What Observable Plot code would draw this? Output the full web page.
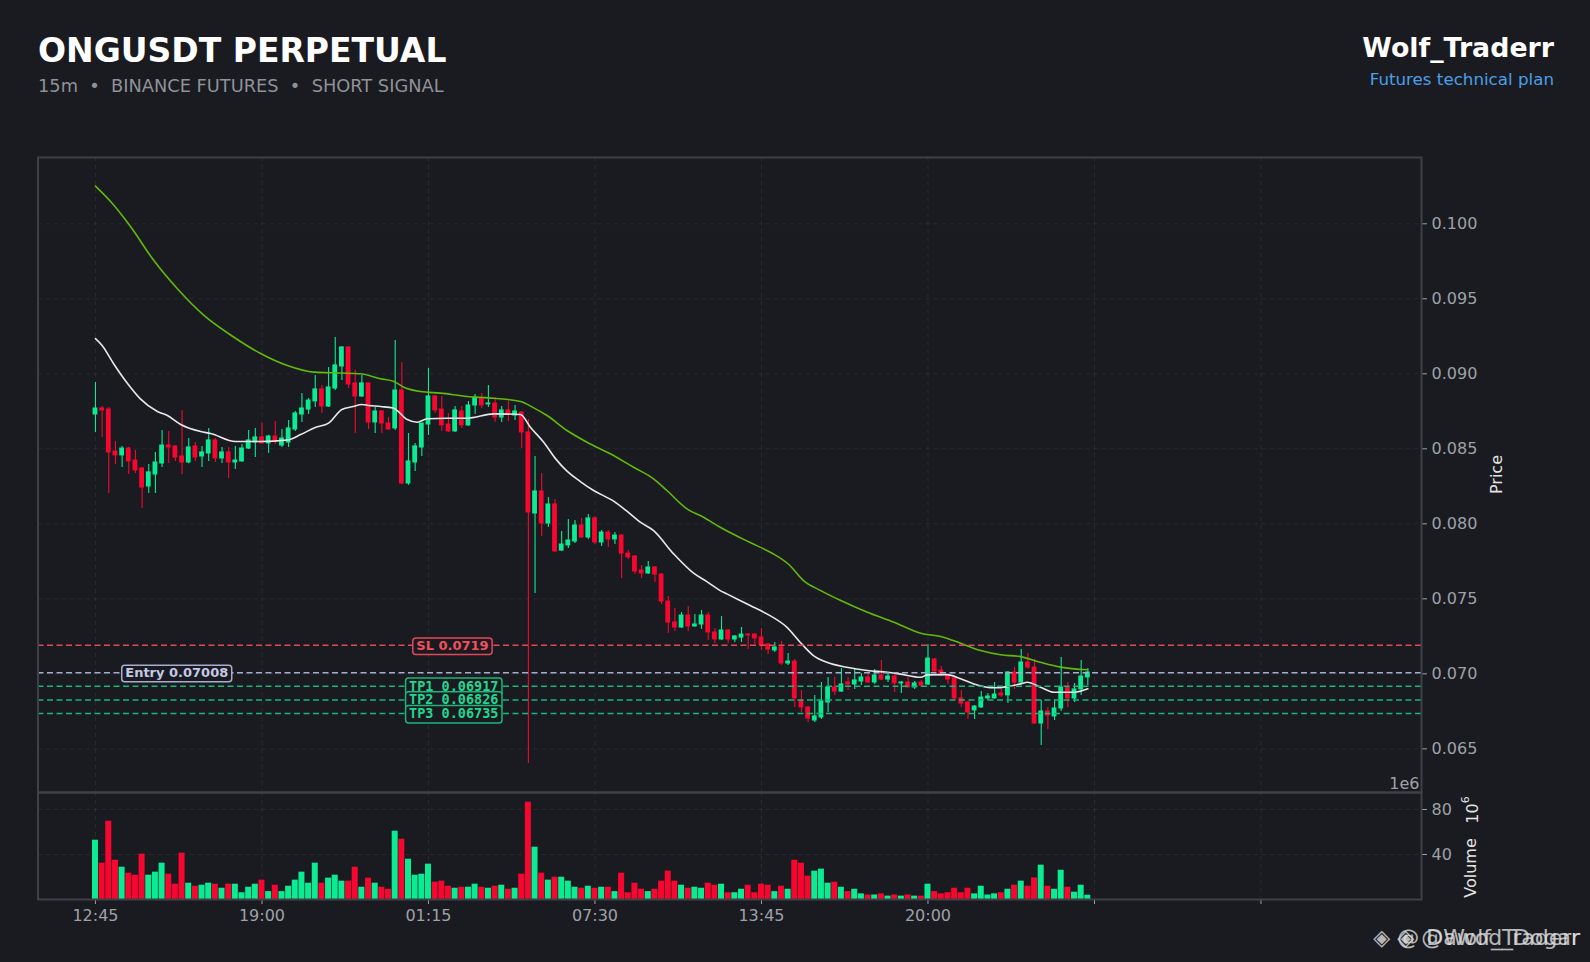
<!DOCTYPE html>
<html><head><meta charset="utf-8">
<script src="https://cdn.jsdelivr.net/npm/d3@7"></script>
<script src="https://cdn.jsdelivr.net/npm/@observablehq/plot@0.6"></script>
<style>
html,body{margin:0;padding:0;background:#1a1b20;}
#root{position:relative;width:1590px;height:962px;overflow:hidden;background:#1a1b20;font-family:"DejaVu Sans",sans-serif;}
#root > svg{position:absolute;left:0;}
</style></head><body><div id="root"></div>
<script>
// ---------- data (15m candles starting 12:45) ----------
const open = [.08729,.08769,.08762,.08482,.08456,.08502,.08422,.08369,.08249,.08329,
.08402,.08522,.08516,.08449,.08409,.08516,.08449,.08469,.08556,.08436,
.08476,.08409,.08416,.08502,.08542,.08576,.08536,.08582,.08522,.08542,
.08629,.08729,.08762,.08816,.08896,.08782,.08902,.09049,.09176,.08936,
.08849,.08936,.08676,.08749,.08669,.08636,.08889,.08269,.08409,.08509,
.08662,.08849,.08762,.08662,.08616,.08749,.08656,.08789,.08836,.08796,
.08802,.08709,.08756,.08722,.08742,.08609,.08069,.08216,.08002,.08129,
.07822,.07856,.07882,.07989,.07909,.08036,.07876,.07942,.07896,.07922,
.07802,.07782,.07689,.07669,.07709,.07662,.07482,.07342,.07309,.07389,
.07316,.07329,.07389,.07276,.07229,.07289,.07229,.07242,.07262,.07262,
.07242,.07196,.07156,.07176,.07069,.07082,.06822,.06776,.06689,.06709,
.06809,.06909,.06882,.06942,.06929,.06949,.06976,.06942,.06989,.06962,
.06982,.06936,.06942,.06909,.06942,.06929,.07096,.07022,.06989,.06969,
.06836,.06809,.06756,.06776,.06836,.06836,.06869,.06856,.07009,.06942,
.07076,.07042,.06669,.06749,.06716,.06769,.06909,.06836,.06896,.06976];
const high = [.08942,.08782,.08776,.08549,.08516,.08510,.08489,.08376,.08396,.08476,
.08622,.08616,.08520,.08756,.08569,.08542,.08516,.08636,.08569,.08509,
.08509,.08516,.08529,.08622,.08636,.08669,.08590,.08682,.08629,.08689,
.08749,.08869,.08836,.08989,.08922,.09042,.09242,.09180,.09180,.09022,
.08989,.08940,.08776,.08756,.08709,.09222,.09076,.08602,.08536,.08669,
.09036,.08856,.08849,.08736,.08782,.08782,.08816,.08862,.08869,.08922,
.08842,.08782,.08816,.08789,.08749,.08696,.08449,.08336,.08176,.08162,
.07949,.08029,.08022,.08036,.08062,.08049,.07956,.07956,.07942,.07929,
.07822,.07789,.07722,.07749,.07716,.07669,.07516,.07436,.07409,.07449,
.07396,.07422,.07409,.07302,.07382,.07296,.07255,.07309,.07269,.07269,
.07302,.07202,.07209,.07216,.07136,.07096,.06889,.06782,.06856,.06942,
.06976,.06976,.07036,.06976,.07029,.07002,.07002,.07029,.07089,.07009,
.07002,.06949,.06976,.06949,.06956,.07196,.07102,.07049,.06996,.06976,
.06889,.06816,.06789,.06882,.06869,.06942,.06902,.07015,.07042,.07162,
.07136,.07096,.06822,.06776,.06829,.07109,.06942,.06936,.07089,.07036];
const low = [.08609,.08576,.08202,.08396,.08376,.08329,.08336,.08102,.08202,.08202,
.08376,.08402,.08416,.08329,.08400,.08416,.08376,.08416,.08409,.08402,
.08302,.08362,.08410,.08496,.08442,.08530,.08469,.08529,.08509,.08509,
.08616,.08676,.08729,.08776,.08736,.08776,.08889,.08956,.08902,.08602,
.08842,.08629,.08602,.08602,.08622,.08622,.08262,.08256,.08349,.08449,
.08589,.08736,.08616,.08609,.08609,.08636,.08650,.08729,.08769,.08776,
.08676,.08676,.08682,.08689,.08502,.06402,.07536,.07916,.07976,.07810,
.07816,.07836,.07869,.07902,.07896,.07862,.07849,.07842,.07862,.07636,
.07762,.07662,.07636,.07662,.07609,.07462,.07269,.07282,.07302,.07282,
.07310,.07296,.07222,.07202,.07222,.07202,.07209,.07209,.07162,.07196,
.07156,.07129,.07142,.07056,.07056,.06776,.06742,.06676,.06676,.06696,
.06742,.06856,.06876,.06889,.06896,.06922,.06936,.06929,.06956,.06942,
.06876,.06869,.06909,.06896,.06909,.06922,.06996,.06982,.06929,.06822,
.06776,.06696,.06696,.06769,.06822,.06830,.06842,.06802,.06896,.06936,
.07029,.06662,.06522,.06629,.06689,.06749,.06776,.06809,.06856,.06922];
const close = [.08769,.08756,.08476,.08456,.08502,.08416,.08356,.08242,.08343,.08409,
.08522,.08509,.08442,.08409,.08509,.08442,.08476,.08556,.08436,.08476,
.08409,.08422,.08502,.08556,.08576,.08536,.08582,.08549,.08569,.08636,
.08736,.08769,.08822,.08896,.08782,.08909,.09056,.09176,.08929,.08849,
.08936,.08676,.08749,.08669,.08629,.08889,.08269,.08416,.08516,.08669,
.08849,.08756,.08656,.08616,.08756,.08656,.08789,.08842,.08789,.08802,
.08709,.08756,.08729,.08749,.08609,.08076,.08216,.08002,.08129,.07816,
.07862,.07889,.07989,.07909,.08036,.07876,.07942,.07896,.07922,.07802,
.07776,.07682,.07669,.07709,.07662,.07482,.07342,.07309,.07389,.07316,
.07329,.07389,.07276,.07229,.07289,.07229,.07249,.07262,.07256,.07236,
.07189,.07162,.07176,.07069,.07082,.06836,.06776,.06702,.06716,.06816,
.06909,.06882,.06929,.06929,.06956,.06976,.06942,.06989,.06962,.06982,
.06936,.06942,.06909,.06936,.06922,.07102,.07016,.06989,.06962,.06836,
.06802,.06742,.06782,.06842,.06849,.06862,.06856,.07009,.06942,.07076,
.07042,.06669,.06749,.06722,.06769,.06909,.06836,.06896,.06982,.07009];
// volume in millions
const volume = [52.7,32.3,69.6,34.9,28.7,23.4,21.6,40.3,21.6,24.3,
32.3,22.5,13.6,41.2,14.5,11.8,12.7,14.5,13.6,10.0,
13.6,13.6,6,10.9,13.6,17.2,7,12.7,7,11.8,
17.2,24.3,14.5,32.3,14.5,19.0,21.6,16.3,16.3,28.7,
10.9,19.0,14.5,10.9,9.1,60.7,53.6,35.8,21.6,22.5,
31.4,15.4,16.3,11.8,10.0,10.9,10.9,13.6,10.9,10.0,
11.8,12.7,9.1,10.0,22.5,86.5,46.5,23.4,17.2,19.8,
19.8,16.3,10.9,10.0,11.8,10.0,10.9,10.9,7,23.4,
6,14.5,9.1,7,9.1,16.3,25.2,16.3,12.7,10.0,
10.9,10.0,14.5,12.7,13.6,6,6,9.1,12.7,6,
13.6,12.7,7,11.8,9.1,34.9,32.3,20.7,25.2,27.0,
14.5,15.4,10.9,7,9.1,5,4,4,5,3,
4,3,4,3,3,13.6,7,5,6,10.0,
6,10.0,5,11.8,4,5,6,9.1,12.7,16.3,
11.8,19.2,30.5,11.8,9.1,26.0,10.9,6.5,12.7,3.8];

// moving averages (candle index, price)
const maFastIdx = [0,1,2.7,4.7,6.7,9.3,10.8,12.8,15.8,17.3,21,24.8,28.8,30.8,33,35,37,38.7,40,41,42.8,44.7,46.8,48.3,49.8,52.8,55.8,59.8,63.8,65.3,67.3,69.1,70.8,72.8,74.8,77.8,79.8,81.8,83.8,86.8,89.8,91.8,93.8,94.8,98.3,100.8,103.8,105.8,107.8,109.8,112.8,115.9,118.9,120.9,123.9,124.9,127.9,129.9,131.9,134.9,136.9,138.9,139.9,141.9,143.9,146.9,149];
const maFastVal = [.09235,.09189,.09069,.08942,.08835,.08749,.08722,.08662,.08615,.08602,.08549,.08549,.08559,.08595,.08642,.08671,.08762,.08782,.08795,.08789,.08782,.08772,.08695,.08677,.08700,.08704,.08704,.08733,.08729,.08644,.08544,.08433,.08351,.08282,.08222,.08151,.08084,.08011,.07955,.07800,.07671,.07615,.07555,.07533,.07455,.07400,.07311,.07211,.07122,.07077,.07044,.07022,.07011,.06998,.06977,.06993,.06995,.06967,.06933,.06907,.06915,.06933,.06944,.06911,.06877,.06877,.06900];
const maSlowIdx = [0,2.5,5.5,8.6,12.4,16.2,20.8,24.8,28.8,32.8,36.8,39.8,42.8,44.8,46.3,48.8,51.8,55.8,59.8,63.8,65.8,67.8,70.8,73.8,77.3,80.8,83.8,85.8,88.8,91.3,93.8,98.3,101.4,104.1,106.3,108.9,111.9,115.9,119.9,123.9,126.9,129.9,132.9,135.9,138.9,141.9,144.9,149];
const maSlowVal = [.10251,.10137,.09967,.09765,.09562,.09393,.09244,.09135,.09055,.09011,.09005,.09000,.08967,.08949,.08911,.08882,.08871,.08849,.08837,.08815,.08773,.08722,.08622,.08544,.08467,.08377,.08300,.08222,.08100,.08044,.07977,.07875,.07809,.07729,.07622,.07555,.07489,.07411,.07344,.07271,.07249,.07204,.07155,.07127,.07115,.07077,.07045,.07027];

// trade levels
const levelNames = ["SL","Entry","TP1","TP2","TP3"];
const levelValues = [0.0719, 0.07008, 0.06917, 0.06826, 0.06735];

// axis ticks
const priceTicks = [0.065,0.070,0.075,0.080,0.085,0.090,0.095,0.100];
const volumeTicks = [40, 80];
const timeTickIdx = [0,25,50,75,100,125,150,175];
const timeTickLabels = ["12:45","19:00","01:15","07:30","13:45","20:00","",""];

// ---------- styles ----------
const BG = "#1a1b20", UP = "#0beb93", DOWN = "#f7062f", AXIS = "#9fa1a8", FRAME = "#3e4148";
const levelStroke = ["#e2485a","#a6add0","#17b67a","#17b67a","#17b67a"];
const levelText = ["#f0505f","#c3c9e6","#22d690","#22d690","#22d690"];
const levelFont = ["DejaVu Sans","DejaVu Sans","DejaVu Sans Mono","DejaVu Sans Mono","DejaVu Sans Mono"];
const levelLabelX = [53.6, 12.2, 53.8, 53.8, 53.8];
const xDomain = [-8.63, 199.1];

const rows = open.map((o, i) => ({i, open: o, high: high[i], low: low[i], close: close[i], volume: volume[i], color: close[i] >= o ? UP : DOWN}));
const fast = maFastIdx.map((x, k) => ({x, y: maFastVal[k]}));
const slow = maSlowIdx.map((x, k) => ({x, y: maSlowVal[k]}));
const levels = levelNames.map((n, k) => ({name: n, value: levelValues[k], label: `${n} ${levelValues[k]}`, stroke: levelStroke[k], text: levelText[k], font: levelFont[k], lx: levelLabelX[k]}));

const gridStyle = {stroke: "#ffffff", strokeOpacity: 0.07, strokeDasharray: "4,4"};
const plotStyle = {background: "none", color: AXIS, fontFamily: "'DejaVu Sans', sans-serif", fontSize: "16px", overflow: "visible"};

const pricePlot = Plot.plot({
  width: 1590, height: 792,
  marginTop: 157, marginBottom: 0, marginLeft: 37.5, marginRight: 169,
  style: plotStyle,
  x: {domain: xDomain, axis: null},
  y: {domain: [0.06209, 0.10442]},
  color: {type: "identity"},
  marks: [
    Plot.gridY(priceTicks, gridStyle),
    Plot.gridX(timeTickIdx, gridStyle),
    Plot.axisY(priceTicks, {anchor: "right", tickSize: 5, tickPadding: 5, tickFormat: d3.format(".3f"), label: null, stroke: AXIS, fill: AXIS}),
    Plot.ruleX(rows, {x: "i", y1: "low", y2: "high", stroke: "color", strokeWidth: 1.1}),
    Plot.rect(rows, {x1: d => d.i - 0.36, x2: d => d.i + 0.36, y1: "open", y2: "close", fill: "color", insetTop: -0.5, insetBottom: -0.5}),
    Plot.line(slow, {x: "x", y: "y", stroke: "#62b90a", strokeWidth: 1.6, curve: "monotone-x"}),
    Plot.line(fast, {x: "x", y: "y", stroke: "#e8e8e8", strokeWidth: 1.6, curve: "monotone-x"}),
    Plot.ruleY(levels, {y: "value", stroke: "stroke", strokeWidth: 1.5, strokeDasharray: "6,3.5"}),
    Plot.text(levels.filter(d => d.font !== "DejaVu Sans Mono"), {x: "lx", y: "value", text: "label", fill: "text", fontWeight: "bold", fontSize: 13, fontFamily: "DejaVu Sans"}),
    Plot.text(levels.filter(d => d.font === "DejaVu Sans Mono"), {x: "lx", y: "value", text: "label", fill: "text", fontWeight: "bold", fontSize: 13.5, fontFamily: "DejaVu Sans Mono"}),
    Plot.text(["1e6"], {frameAnchor: "bottom-right", text: d => d, fill: AXIS, fontSize: 16, dx: -2, dy: -4}),
    Plot.frame({stroke: FRAME, strokeWidth: 2})
  ]
});

const volPlot = Plot.plot({
  width: 1590, height: 170,
  marginTop: 0, marginBottom: 63, marginLeft: 37.5, marginRight: 169,
  style: plotStyle,
  x: {domain: xDomain},
  y: {domain: [0, 95.1]},
  color: {type: "identity"},
  marks: [
    Plot.gridY(volumeTicks, gridStyle),
    Plot.gridX(timeTickIdx, gridStyle),
    Plot.rectY(rows, {x1: d => d.i - 0.45, x2: d => d.i + 0.45, y: "volume", fill: "color"}),
    Plot.axisY(volumeTicks, {anchor: "right", tickSize: 5, tickPadding: 5, label: null, stroke: AXIS, fill: AXIS}),
    Plot.axisX(timeTickIdx, {tickSize: 5, tickPadding: 5, tickFormat: d => timeTickLabels[timeTickIdx.indexOf(d)], label: null, stroke: AXIS, fill: AXIS}),
    Plot.frame({stroke: FRAME, strokeWidth: 2})
  ]
});

const root = document.getElementById("root");
pricePlot.style.top = "0px";
volPlot.style.top = "792px";
root.appendChild(pricePlot);
root.appendChild(volPlot);

// boxes behind level labels
const NS = "http://www.w3.org/2000/svg";
pricePlot.querySelectorAll("text").forEach(t => {
  const lv = levels.find(l => l.label === t.textContent);
  if (!lv) return;
  const b = t.getBBox();
  const r = document.createElementNS(NS, "rect");
  r.setAttribute("x", b.x - 3.5);
  r.setAttribute("y", b.y + 0.5);
  r.setAttribute("width", b.width + 7);
  r.setAttribute("height", b.height + 1.5);
  r.setAttribute("rx", 3);
  r.setAttribute("fill", BG);
  r.setAttribute("stroke", lv.stroke);
  r.setAttribute("stroke-width", 1.5);
  const tr = t.getAttribute("transform");
  if (tr) r.setAttribute("transform", tr);
  t.parentNode.insertBefore(r, t);
});

// overlay texts: titles, axis labels, watermark
const ov = d3.select(root).append("svg").attr("width", 1590).attr("height", 962)
  .style("top", "0px").style("pointer-events", "none").style("font-family", "'DejaVu Sans', sans-serif");
ov.append("text").attr("x", 38).attr("y", 62).attr("fill", "#ffffff").attr("font-size", 33).attr("font-weight", "bold").text("ONGUSDT PERPETUAL");
ov.append("text").attr("x", 38).attr("y", 92).attr("fill", "#8f9299").attr("font-size", 17.8).attr("xml:space", "preserve").style("white-space", "pre").text("15m  •  BINANCE FUTURES  •  SHORT SIGNAL");
ov.append("text").attr("x", 1554).attr("y", 57).attr("text-anchor", "end").attr("fill", "#ffffff").attr("font-size", 26.8).attr("font-weight", "bold").text("Wolf_Traderr");
ov.append("text").attr("x", 1554).attr("y", 85).attr("text-anchor", "end").attr("fill", "#4a9fe8").attr("font-size", 16.7).text("Futures technical plan");
ov.append("text").attr("transform", "translate(1496,474.5) rotate(-90)").attr("text-anchor", "middle").attr("dominant-baseline", "central").attr("fill", "#e4e4e4").attr("font-size", 16).text("Price");
ov.append("text").attr("transform", "translate(1470,868) rotate(-90)").attr("text-anchor", "middle").attr("dominant-baseline", "central").attr("fill", "#e4e4e4").attr("font-size", 16).text("Volume");
const tenSix = ov.append("text").attr("transform", "translate(1472,810) rotate(-90)").attr("text-anchor", "middle").attr("dominant-baseline", "central").attr("fill", "#e4e4e4").attr("font-size", 16);
tenSix.append("tspan").text("10");
tenSix.append("tspan").attr("dy", -7).attr("font-size", 11).text("6");
ov.append("text").attr("x", 1580).attr("y", 945).attr("text-anchor", "end").attr("fill", "#e0e0e0").attr("opacity", 0.8).attr("font-size", 22).text("◈ @ Dawod_Dogar");
ov.append("text").attr("x", 1580).attr("y", 945).attr("text-anchor", "end").attr("fill", "#e0e0e0").attr("opacity", 0.8).attr("font-size", 22).text("◈ @Wolf_Traderr");
</script>
</body></html>
